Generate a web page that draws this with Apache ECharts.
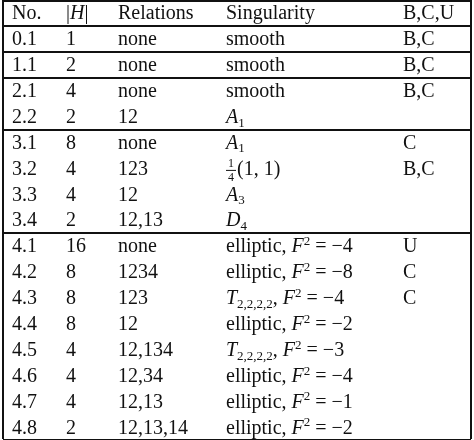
<!DOCTYPE html>
<html><head><meta charset="utf-8">
<script src="https://cdn.jsdelivr.net/npm/echarts@6/dist/echarts.min.js"></script>
<style>html,body{margin:0;padding:0;background:#fff}#c{width:474px;height:440px}</style>
</head><body><div id="c"></div>
<script>
const headers = ['No.', '|{it|H}|', 'Relations', 'Singularity', 'B,C,U'];
const nos = ['0.1','1.1','2.1','2.2','3.1','3.2','3.3','3.4','4.1','4.2','4.3','4.4','4.5','4.6','4.7','4.8'];
const orders = ['1','2','4','2','8','4','4','2','16','8','8','8','4','4','4','2'];
const relations = ['none','none','none','12','none','123','12','12,13','none','1234','123','12','12,134','12,34','12,13','12,13,14'];
const singularity = ['smooth','smooth','smooth','{it|A}{sub|1}','{it|A}{sub|1}','FRAC(1, 1)','{it|A}{sub|3}','{it|D}{sub|4}',
  'elliptic, {it|F}{sup|2} = −4','elliptic, {it|F}{sup|2} = −8','{it|T}{sub|2,2,2,2}, {it|F}{sup|2} = −4','elliptic, {it|F}{sup|2} = −2',
  '{it|T}{sub|2,2,2,2}, {it|F}{sup|2} = −3','elliptic, {it|F}{sup|2} = −4','elliptic, {it|F}{sup|2} = −1','elliptic, {it|F}{sup|2} = −2'];
const types = ['B,C','B,C','B,C','','C','B,C','','','U','C','C','','','','',''];
const groupEnds = [0,1,2,4,8,16];

const colX = [12, 66, 118, 226, 403];
const rowH = 25.9, top0 = 13;
const font = 'Liberation Serif, DejaVu Serif, serif';
const rich = {
  it: {fontStyle:'italic', fontSize:20, fontFamily:font, lineHeight:24},
  sub: {fontSize:13, fontFamily:font, lineHeight:13, verticalAlign:'bottom', padding:[0,0,0,0]},
  sup: {fontSize:13, fontFamily:font, lineHeight:13, verticalAlign:'top'}
};
const els = [];
function txt(x, y, s){
  els.push({type:'text', x:x, y:y, style:{text:s, rich:rich, fontSize:20, fontFamily:font, fill:'#111', lineHeight:24, verticalAlign:'middle', align:'left'}});
}
const rows = [headers].concat(nos.map((n,i)=>[n, orders[i], relations[i], singularity[i], types[i]]));
rows.forEach((r, i) => {
  const y = top0 + rowH*i + 1;
  r.forEach((s, j) => {
    if (s.startsWith('FRAC')) {
      const x = colX[j];
      els.push({type:'text', x:x+5, y:y-6, style:{text:'1', fontSize:12, fontFamily:font, fill:'#111', align:'center', verticalAlign:'middle'}});
      els.push({type:'line', shape:{x1:x, y1:y+1, x2:x+10, y2:y+1}, style:{stroke:'#111', lineWidth:1}});
      els.push({type:'text', x:x+5, y:y+8, style:{text:'4', fontSize:12, fontFamily:font, fill:'#111', align:'center', verticalAlign:'middle'}});
      txt(x+11, y, s.slice(4));
    } else if (s) txt(colX[j], y, s);
  });
});
// horizontal rules
els.push({type:'line', shape:{x1:3, y1:1, x2:471, y2:1}, style:{stroke:'#111', lineWidth:2}});
groupEnds.forEach(g => {
  const y = Math.round(top0 + rowH*(g+0.5));
  els.push({type:'line', shape:{x1:3, y1:y, x2:471, y2:y}, style:{stroke:'#111', lineWidth:2}});
});
els.push({type:'line', shape:{x1:3, y1:0, x2:3, y2:439}, style:{stroke:'#111', lineWidth:2}});
els.push({type:'line', shape:{x1:471, y1:0, x2:471, y2:439}, style:{stroke:'#111', lineWidth:2}});

const chart = echarts.init(document.getElementById('c'));
chart.setOption({animation:false, graphic:{elements:els}});
</script></body></html>
